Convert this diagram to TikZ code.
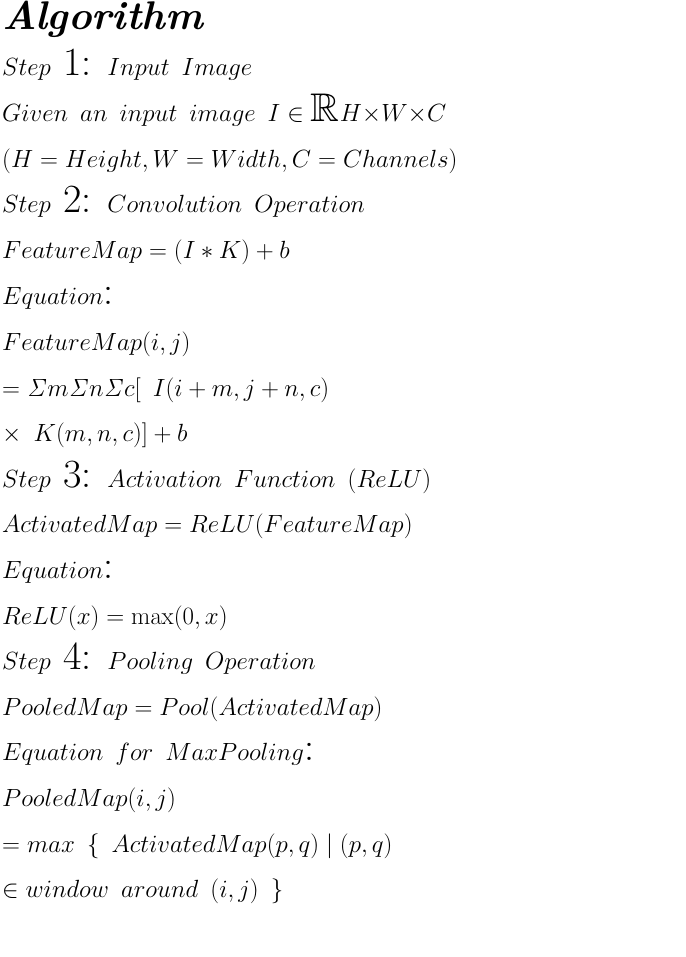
\documentclass[tikz,border=0pt]{standalone}
\usepackage{amsmath,amssymb}
\usepackage{tikz}
\usetikzlibrary{calc}
\tikzset{
  txt/.style={anchor=base west, inner sep=0pt, font=\fontsize{40}{46}\selectfont},
}
\begin{document}
\begin{tikzpicture}[x=1pt,y=-1pt]
\useasboundingbox (0,0) rectangle (685,957);
% Algorithm text, one line per node
\node[txt] (l1) at (2,30) {\textbf{\textit{Algorithm}}};
\node[txt] (l2) at (2,76) {$Step$ 1: $Input\ Image$};
\node[txt] (l3) at (2,122) {$Given\ an\ input\ image\ I \in \mathbb{R}H{\times}W{\times}C$};
\node[txt] (l4) at (2,168) {$(H = Height,W = Width,C = Channels)$};
\node[txt] (l5) at (2,213) {$Step$ 2: $Convolution\ Operation$};
\node[txt] (l6) at (2,259) {$FeatureMap = (I \ast K) + b$};
\node[txt] (l7) at (2,304) {$Equation$:};
\node[txt] (l8) at (2,350) {$FeatureMap(i,j)$};
\node[txt] (l9) at (2,396) {$= \mathit{\Sigma} m \mathit{\Sigma} n \mathit{\Sigma} c[\ I(i+m,j+n,c)$};
\node[txt] (l10) at (2,441) {$\times\ K(m,n,c)] + b$};
\node[txt] (l11) at (2,487) {$Step$ 3: $Activation\ Function\ (ReLU)$};
\node[txt] (l12) at (2,532) {$ActivatedMap = ReLU(FeatureMap)$};
\node[txt] (l13) at (2,578) {$Equation$:};
\node[txt] (l14) at (2,624) {$ReLU(x) = \max(0,x)$};
\node[txt] (l15) at (2,669) {$Step$ 4: $Pooling\ Operation$};
\node[txt] (l16) at (2,715) {$PooledMap = Pool(ActivatedMap)$};
\node[txt] (l17) at (2,760) {$Equation\ for\ MaxPooling$:};
\node[txt] (l18) at (2,806) {$PooledMap(i,j)$};
\node[txt] (l19) at (2,852) {$= max\ \{\ ActivatedMap(p,q) \mid (p,q)$};
\node[txt] (l20) at (2,897) {$\in window\ around\ (i,j)\ \}$};
\end{tikzpicture}
\end{document}
